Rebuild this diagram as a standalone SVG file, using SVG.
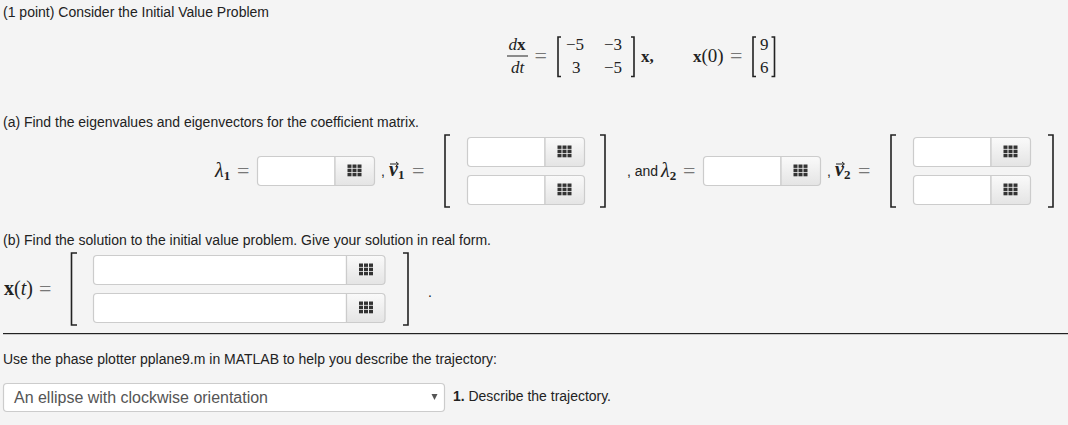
<svg xmlns="http://www.w3.org/2000/svg" width="1068" height="425" viewBox="0 0 1068 425">
<style>
.t{font-family:"Liberation Sans",Arial,sans-serif;font-size:14px;fill:#222}
.m{font-family:"Liberation Serif","Times New Roman",serif;font-size:20px;fill:#222}
.mn{font-family:"Liberation Serif","Times New Roman",serif;font-size:17px;fill:#222}
.b{font-weight:bold}
.i{font-style:italic}
.eq{font-family:"Liberation Serif","Times New Roman",serif;font-size:22px;fill:#777}
.br{fill:none;stroke:#222;stroke-width:1.6}
.box{fill:#fff;stroke:#ccc;stroke-width:1.2}
.btn{fill:url(#g);stroke:#ccc;stroke-width:1.2}
.d{fill:#333}
</style>
<defs>
<linearGradient id="g" x1="0" y1="0" x2="0" y2="1"><stop offset="0" stop-color="#fafafa"/><stop offset="1" stop-color="#e4e4e4"/></linearGradient>
<g id="grid" class="d">
<rect x="0" y="0" width="4" height="3.400"/><rect x="5" y="0" width="4" height="3.400"/><rect x="10" y="0" width="4" height="3.400"/>
<rect x="0" y="4.200" width="4" height="3.400"/><rect x="5" y="4.200" width="4" height="3.400"/><rect x="10" y="4.200" width="4" height="3.400"/>
<rect x="0" y="8.400" width="4" height="3.400"/><rect x="5" y="8.400" width="4" height="3.400"/><rect x="10" y="8.400" width="4" height="3.400"/>
</g>
<g id="w">
<path class="box" d="M78 .5H4Q.5 .5 .5 4V26Q.5 29.500 4 29.500H78Z"/>
<path class="btn" d="M78 .5H114Q117.500 .5 117.500 4V26Q117.500 29.500 114 29.500H78Z"/>
<use href="#grid" x="90.500" y="8.500"/>
</g>
<g id="wl">
<path class="box" d="M253.500 .5H4Q.5 .5 .5 4V26Q.5 29.500 4 29.500H253.500Z"/>
<path class="btn" d="M253.500 .5H288.500Q292 .5 292 4V26Q292 29.500 288.500 29.500H253.500Z"/>
<use href="#grid" x="266" y="8.500"/>
</g>
</defs>
<rect width="1068" height="425" fill="#f4f4f4"/>
<g id="intro"><text class="t" x="3" y="17" textLength="266" lengthAdjust="spacingAndGlyphs">(1 point) Consider the Initial Value Problem</text></g>
<g id="ode">
<text class="mn" x="508.500" y="50"><tspan class="i">d</tspan><tspan class="b">x</tspan></text>
<rect x="507" y="55.500" width="21" height="1" fill="#222"/>
<text class="mn i" x="511" y="73">dt</text>
<text class="eq" x="534.500" y="63">=</text>
<path class="br" d="M561 37H558V76.500H561M631 37H634V76.500H631"/>
<text class="mn" x="566" y="50">−5</text><text class="mn" x="604" y="50">−3</text>
<text class="mn" x="572" y="73">3</text><text class="mn" x="604" y="73">−5</text>
<text class="mn b" x="641" y="62">x,</text>
<text class="mn" x="693" y="62"><tspan class="b">x</tspan><tspan font-size="19">(0)</tspan></text>
<text class="eq" x="730" y="63">=</text>
<path class="br" d="M756 37H753V76.500H756M771.500 37H774.500V76.500H771.500"/>
<text class="mn" x="760" y="50">9</text><text class="mn" x="760" y="73">6</text>
</g>
<g id="part-a"><text class="t" x="3" y="127" textLength="416" lengthAdjust="spacingAndGlyphs">(a) Find the eigenvalues and eigenvectors for the coefficient matrix.</text></g>
<g id="lambda1">
<text class="m i" x="215" y="177">λ<tspan font-size="13" dy="3" font-weight="bold" font-style="normal">1</tspan></text>
<text class="eq" x="237" y="178">=</text>
<use href="#w" x="257" y="156"/>
</g>
<g id="v1">
<text class="t" x="381" y="176">,</text>
<text class="m b i" x="389" y="176">v<tspan font-size="13" dy="3" font-style="normal">1</tspan></text>
<path d="M390 164H398M396 162L398.500 164L396 166" fill="none" stroke="#222"/>
<text class="eq" x="412" y="178">=</text>
<path class="br" d="M450 135H445V207H450M600 135H605V207H600"/>
<use href="#w" x="467" y="137"/>
<use href="#w" x="467" y="175"/>
</g>
<g id="lambda2">
<text class="t" x="627" y="176">, and</text>
<text class="m i" x="661" y="177">λ<tspan font-size="13" dy="3" font-weight="bold" font-style="normal">2</tspan></text>
<text class="eq" x="683" y="178">=</text>
<use href="#w" x="703" y="156"/>
</g>
<g id="v2">
<text class="t" x="827" y="176">,</text>
<text class="m b i" x="835" y="176">v<tspan font-size="13" dy="3" font-style="normal">2</tspan></text>
<path d="M836 164H844M842 162L844.500 164L842 166" fill="none" stroke="#222"/>
<text class="eq" x="858" y="178">=</text>
<path class="br" d="M896 135H891V207H896M1048 135H1053V207H1048"/>
<use href="#w" x="913" y="137"/>
<use href="#w" x="913" y="175"/>
</g>
<g id="part-b"><text class="t" x="3" y="245" textLength="488" lengthAdjust="spacingAndGlyphs">(b) Find the solution to the initial value problem. Give your solution in real form.</text></g>
<g id="solution">
<text class="m" x="4" y="295"><tspan class="b">x</tspan>(<tspan class="i">t</tspan>)</text>
<text class="eq" x="39" y="296">=</text>
<path class="br" d="M77 253H71.500V325H77M403 253H408V325H403"/>
<use href="#wl" x="93" y="255"/>
<use href="#wl" x="93" y="293"/>
<text class="t" x="428" y="297">.</text>
</g>
<g id="rule"><rect x="3" y="333" width="1065" height="1.200" fill="#222"/></g>
<g id="phase"><text class="t" x="3" y="364" textLength="494" lengthAdjust="spacingAndGlyphs">Use the phase plotter pplane9.m in MATLAB to help you describe the trajectory:</text></g>
<g id="select">
<rect class="box" x="3.500" y="383.500" width="441" height="28" rx="3.500"/>
<text x="14" y="403" textLength="254" lengthAdjust="spacingAndGlyphs" font-family="'Liberation Sans',Arial,sans-serif" font-size="16" fill="#555">An ellipse with clockwise orientation</text>
<path d="M431.500 394H437.500L434.500 400Z" fill="#555"/>
</g>
<g id="describe"><text class="t" x="453" y="401" textLength="158" lengthAdjust="spacingAndGlyphs"><tspan class="b">1.</tspan> Describe the trajectory.</text></g>
</svg>
